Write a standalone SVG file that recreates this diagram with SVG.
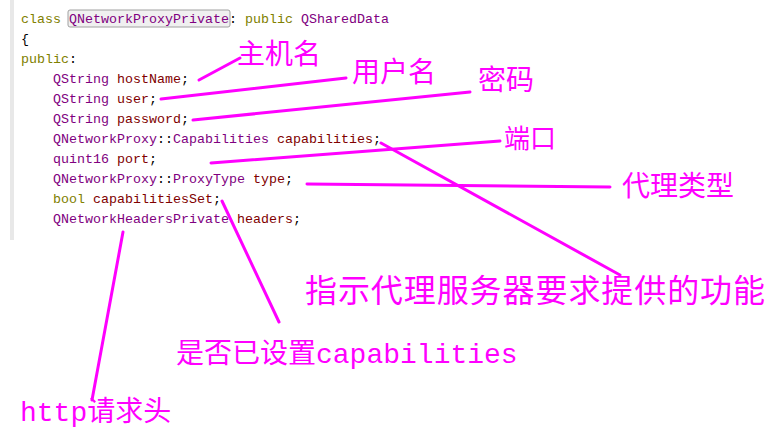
<svg xmlns="http://www.w3.org/2000/svg" width="775" height="431" viewBox="0 0 775 431">
<style>
.c{font-family:"Liberation Mono",monospace;font-size:13.33px}
.k{fill:#808000}.t{fill:#800080}.m{fill:#800000}.p{fill:#000}
.l{font-family:"Noto Sans CJK SC",sans-serif;fill:#ff00ff}
.ln{stroke:#ff00ff;stroke-width:3;fill:none;stroke-linecap:round}
</style>
<rect width="775" height="431" fill="#fff"/>
<rect x="10" y="0" width="4" height="240" fill="#e8e8e8"/>
<rect x="68" y="10" width="162" height="17" rx="2" fill="#f0f0f0" stroke="#a0a0a0"/>
<g id="code" class="c">
<text x="21" y="23"><tspan class="k">class </tspan><tspan class="t">QNetworkProxyPrivate</tspan><tspan class="p">: </tspan><tspan class="k">public </tspan><tspan class="t">QSharedData</tspan></text>
<text x="21" y="43" class="p">{</text>
<text x="21" y="63"><tspan class="k">public</tspan><tspan class="p">:</tspan></text>
<text x="53" y="83"><tspan class="t">QString </tspan><tspan class="m">hostName</tspan><tspan class="p">;</tspan></text>
<text x="53" y="103"><tspan class="t">QString </tspan><tspan class="m">user</tspan><tspan class="p">;</tspan></text>
<text x="53" y="123"><tspan class="t">QString </tspan><tspan class="m">password</tspan><tspan class="p">;</tspan></text>
<text x="53" y="143"><tspan class="t">QNetworkProxy</tspan><tspan class="p">::</tspan><tspan class="t">Capabilities </tspan><tspan class="m">capabilities</tspan><tspan class="p">;</tspan></text>
<text x="53" y="163"><tspan class="t">quint16 </tspan><tspan class="m">port</tspan><tspan class="p">;</tspan></text>
<text x="53" y="183"><tspan class="t">QNetworkProxy</tspan><tspan class="p">::</tspan><tspan class="t">ProxyType </tspan><tspan class="m">type</tspan><tspan class="p">;</tspan></text>
<text x="53" y="203"><tspan class="k">bool </tspan><tspan class="m">capabilitiesSet</tspan><tspan class="p">;</tspan></text>
<text x="53" y="223"><tspan class="t">QNetworkHeadersPrivate </tspan><tspan class="m">headers</tspan><tspan class="p">;</tspan></text>
</g>
<g id="connectors" class="ln">
<path d="M199 80L240 58"/>
<path d="M161 99L346 78"/>
<path d="M193 120L470 92"/>
<path d="M211 163L500 141"/>
<path d="M307 184L610 187"/>
<path d="M381 143L620 275"/>
<path d="M222 201L279 322"/>
<path d="M123 232L92 400"/>
</g>
<g id="labels" class="l">
<text id="n1" x="237" y="64" font-size="28">主机名</text>
<text id="n2" x="352" y="82" font-size="28">用户名</text>
<text id="n3" x="478" y="90" font-size="28">密码</text>
<text id="n4" x="504" y="148" font-size="26">端口</text>
<text id="n5" x="622" y="196" font-size="28">代理类型</text>
<text id="n6" x="305" y="302" font-size="32" textLength="460">指示代理服务器要求提供的功能</text>
<text id="n7" x="176" y="363" font-size="28">是否已设置<tspan font-family="Liberation Mono,monospace">capabilities</tspan></text>
<text id="n8" x="20" y="421" font-size="28"><tspan font-family="Liberation Mono,monospace">http</tspan>请求头</text>
</g>
</svg>
